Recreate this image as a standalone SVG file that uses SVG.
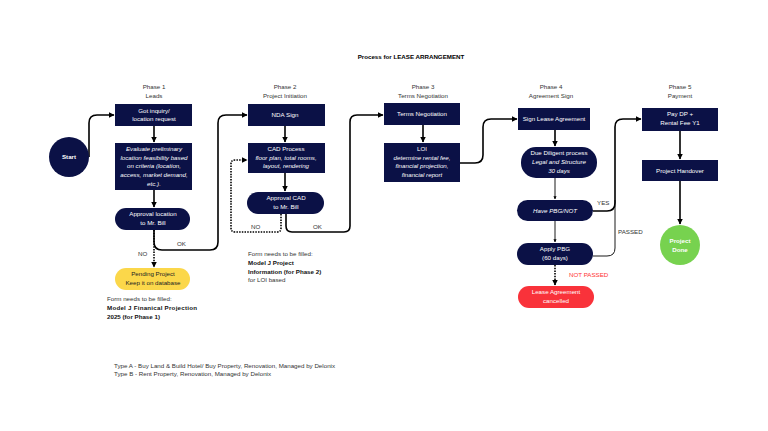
<svg xmlns="http://www.w3.org/2000/svg" width="768" height="431" viewBox="0 0 768 431">
<style>
text{font-family:"Liberation Sans",Arial,sans-serif;font-size:6.2px;fill:#333}
.n{fill:#0b1146}
.w{fill:#fff;text-anchor:middle}
.i{font-style:italic}
.c{text-anchor:middle}
.b{font-weight:bold}
.l{fill:none;stroke:#000;stroke-width:1.6}
.t{fill:none;stroke:#000;stroke-width:0.9}
.d{fill:none;stroke:#000;stroke-width:1.6;stroke-dasharray:1.5 1.2}
</style>
<defs><marker id="a" viewBox="0 0 10 10" refX="9" refY="5" markerWidth="3.5" markerHeight="3.5" orient="auto"><path d="M0 0L10 5L0 10z" fill="#000"/></marker></defs>
<rect width="768" height="431" fill="#fff"/>
<text x="411" y="59" class="c b" style="fill:#000">Process for LEASE ARRANGEMENT</text>
<g class="c">
<text x="154" y="89">Phase 1</text><text x="154" y="98">Leads</text>
<text x="285" y="89">Phase 2</text><text x="285" y="98">Project Initiation</text>
<text x="423" y="89">Phase 3</text><text x="423" y="98">Terms Negotiation</text>
<text x="551" y="89">Phase 4</text><text x="551" y="98">Agreement Sign</text>
<text x="680" y="89">Phase 5</text><text x="680" y="98">Payment</text>
</g>
<g id="connectors">
<path class="l" d="M89 157V123Q89 115 97 115H114" marker-end="url(#a)"/>
<path class="l" d="M154 126V142" marker-end="url(#a)"/>
<path class="l" d="M154 190V207" marker-end="url(#a)"/>
<path class="d" d="M154 230V267" marker-end="url(#a)"/>
<path class="l" d="M154 230V242Q154 250 162 250H210Q218 250 218 242V123Q218 115 226 115H247" marker-end="url(#a)"/>
<path class="l" d="M285 126V142" marker-end="url(#a)"/>
<path class="l" d="M285 173V191" marker-end="url(#a)"/>
<path class="d" d="M281 214V228Q281 232 277 232H235Q231 232 231 228V164Q231 160 235 160H247" marker-end="url(#a)"/>
<path class="l" d="M286 214V226Q286 232 292 232H344Q350 232 350 226V122Q350 115 357 115H383" marker-end="url(#a)"/>
<path class="l" d="M423 125V142" marker-end="url(#a)"/>
<path class="l" d="M460 163H475Q483 163 483 155V127Q483 119 491 119H517" marker-end="url(#a)"/>
<path class="l" d="M555 130V146" marker-end="url(#a)"/>
<path class="t" d="M555 178V199" marker-end="url(#a)"/>
<path class="t" d="M555 221V242" marker-end="url(#a)"/>
<path class="d" d="M555 265V285" marker-end="url(#a)"/>
<path class="l" d="M593 211H607Q615 211 615 203V127Q615 119 623 119H641" marker-end="url(#a)"/>
<path class="t" d="M593 256H607Q615 256 615 248V200"/>
<path class="l" d="M680 131V159" marker-end="url(#a)"/>
<path class="l" d="M680 181V224" marker-end="url(#a)"/>
</g>
<g>
<text x="138" y="256">NO</text><text x="177" y="246">OK</text>
<text x="251" y="229">NO</text><text x="313" y="229">OK</text>
<text x="597" y="205">YES</text><text x="618" y="234">PASSED</text>
<text x="569" y="277" style="fill:#f33">NOT PASSED</text>
</g>
<g id="start"><circle class="n" cx="69" cy="157" r="20"/><text x="69" y="159" class="w b">Start</text></g>
<g id="inquiry"><rect class="n" x="115" y="104" width="77" height="22"/><text x="154" y="113" class="w">Got inquiry/</text><text x="154" y="121" class="w">location request</text></g>
<g id="evaluate"><rect class="n" x="115" y="143" width="77" height="47"/><text class="w i"><tspan x="154" y="151">Evaluate preliminary</tspan><tspan x="154" y="160">location feasibility based</tspan><tspan x="154" y="168">on criteria (location,</tspan><tspan x="154" y="177">access, market demand,</tspan><tspan x="154" y="186">etc.).</tspan></text></g>
<g id="approval"><rect class="n" x="115" y="208" width="75" height="22" rx="11"/><text x="153" y="216" class="w">Approval location</text><text x="153" y="225" class="w">to Mr. Bill</text></g>
<g id="pending"><rect x="115" y="268" width="75" height="22" rx="11" fill="#fbd74a"/><text x="153" y="276" class="c" style="fill:#222">Pending Project</text><text x="153" y="285" class="c" style="fill:#222">Keep it on database</text></g>
<text x="107" y="301">Form needs to be filled:</text>
<text x="107" y="310" class="b" style="fill:#111" textLength="90">Model  J  Finanical  Projection</text>
<text x="107" y="319" class="b" style="fill:#111">2025 (for Phase 1)</text>
<g id="nda"><rect class="n" x="248" y="104" width="77" height="22"/><text x="285" y="117" class="w">NDA Sign</text></g>
<g id="cad"><rect class="n" x="248" y="143" width="77" height="30"/><text x="286" y="151" class="w">CAD Process</text><text x="286" y="160" class="w i">floor plan, total rooms,</text><text x="286" y="168" class="w i">layout, rendering</text></g>
<g id="approvalcad"><rect class="n" x="247" y="192" width="77" height="22" rx="11"/><text x="286" y="200" class="w">Approval CAD</text><text x="286" y="209" class="w">to Mr. Bill</text></g>
<text x="248" y="256">Form needs to be filled:</text>
<text x="248" y="265" class="b" style="fill:#111">Model J Project</text>
<text x="248" y="274"><tspan class="b" style="fill:#111">Information (for Phase 2)</tspan></text>
<text x="248" y="282">for LOI based</text>
<g id="terms"><rect class="n" x="384" y="103" width="76" height="22"/><text x="422" y="116" class="w">Terms Negotiation</text></g>
<g id="loi"><rect class="n" x="384" y="143" width="76" height="39"/><text x="422" y="151" class="w">LOI</text><text class="w i"><tspan x="422" y="160">determine rental fee,</tspan><tspan x="422" y="168">financial projection,</tspan><tspan x="422" y="177">financial report</tspan></text></g>
<g id="sign"><rect class="n" x="518" y="108" width="72" height="22"/><text x="554" y="121" class="w">Sign Lease Agreement</text></g>
<g id="due"><rect class="n" x="521" y="147" width="76" height="31" rx="15"/><text x="559" y="155" class="w">Due Diligent process</text><text x="559" y="164" class="w i">Legal and Structure</text><text x="559" y="173" class="w i">30 days</text></g>
<g id="havepbg"><rect class="n" x="517" y="200" width="76" height="21" rx="10.5"/><text x="555" y="213" class="w i">Have PBG/NOT</text></g>
<g id="applypbg"><rect class="n" x="517" y="243" width="76" height="22" rx="11"/><text x="555" y="251" class="w">Apply PBG</text><text x="555" y="260" class="w">(60 days)</text></g>
<g id="cancelled"><rect x="518" y="286" width="76" height="22" rx="11" fill="#f9323a"/><text x="556" y="294" class="w">Lease Agreement</text><text x="556" y="303" class="w">cancelled</text></g>
<g id="pay"><rect class="n" x="642" y="108" width="76" height="23"/><text x="680" y="116" class="w">Pay DP +</text><text x="680" y="125" class="w">Rental Fee Y1</text></g>
<g id="handover"><rect class="n" x="642" y="160" width="76" height="21"/><text x="680" y="173" class="w">Project Handover</text></g>
<g id="done"><circle cx="680" cy="245" r="20" fill="#77d24f"/><text x="680" y="243" class="w b">Project</text><text x="680" y="252" class="w b">Done</text></g>
<text x="114" y="368">Type A -  Buy Land &amp; Build Hotel/ Buy Property, Renovation, Managed by Delonix</text>
<text x="114" y="376">Type B -  Rent Property, Renovation, Managed by Delonix</text>
</svg>
